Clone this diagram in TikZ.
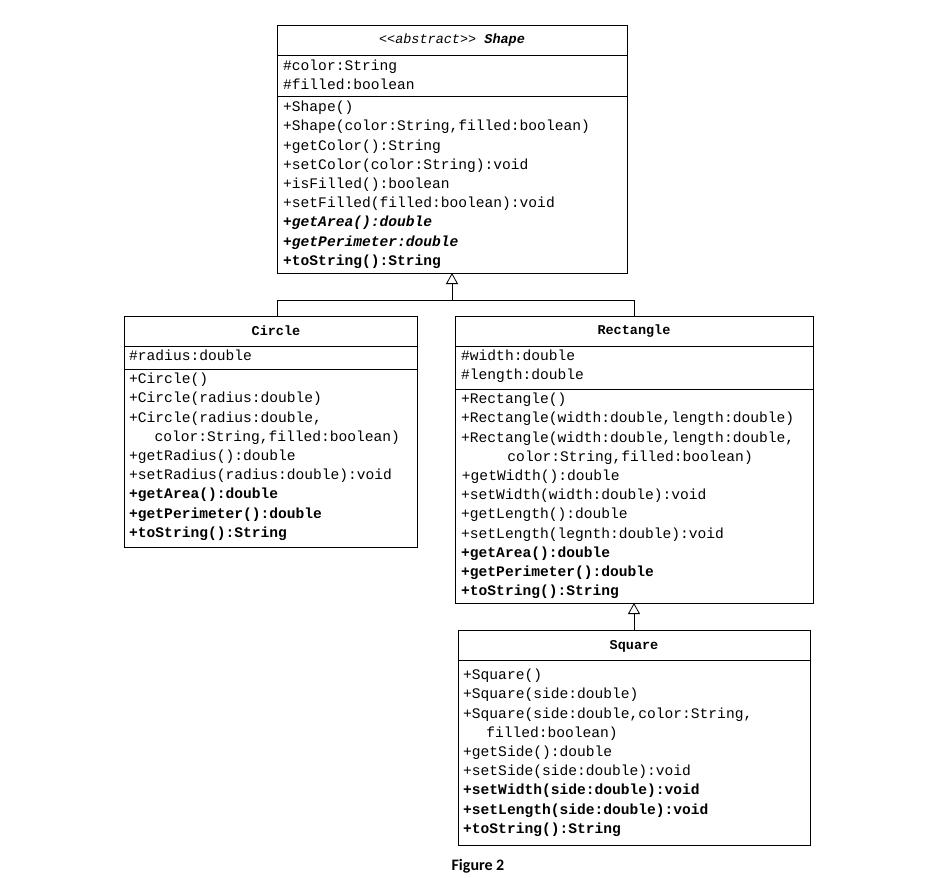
\documentclass[tikz,border=0pt]{standalone}
\usepackage{fontspec}
\setmainfont{Carlito}
\setmonofont{Liberation Mono}
\usetikzlibrary{arrows.meta}
\begin{document}
\begin{tikzpicture}[x=1pt,y=-1pt,
  sect/.style={anchor=north west,align=left,inner sep=0pt,font=\ttfamily\fontsize{14.6}{19.2}\selectfont},
  hdr/.style={anchor=center,inner sep=0pt,font=\ttfamily\bfseries\fontsize{13.5}{16}\selectfont},
  box/.style={draw,line width=0.8pt},
  conn/.style={draw,line width=0.8pt},
  inh/.style={draw,line width=0.8pt,-{Triangle[open,width=12pt,length=11pt]}}]
\useasboundingbox (0,0) rectangle (927,878);
% Shape
\draw[box] (277,25) rectangle (627,273);
\draw[box] (277,55) -- (627,55) (277,96) -- (627,96);
\node[hdr,font=\ttfamily\fontsize{13.5}{16}\selectfont] (sh) at (452,40) {\textit{<<abstract>>} \textbf{\textit{Shape}}};
\node[sect] (sa) at (283,60) {\#color:String\\\#filled:boolean};
\node[sect] (sm) at (283,101) {+Shape()\\+Shape(color:String,filled:boolean)\\+getColor():String\\+setColor(color:String):void\\+isFilled():boolean\\+setFilled(filled:boolean):void\\\textbf{\textit{+getArea():double}}\\\textbf{\textit{+getPerimeter:double}}\\\textbf{+toString():String}};
% Circle
\draw[box] (124,316) rectangle (417,547);
\draw[box] (124,346) -- (417,346) (124,369) -- (417,369);
\node[hdr] (ch) at (276,331) {Circle};
\node[sect] (ca) at (129,350) {\#radius:double};
\node[sect] (cm) at (129,373) {+Circle()\\+Circle(radius:double)\\+Circle(radius:double,\\\hspace*{3.3ex}color:String,filled:boolean)\\+getRadius():double\\+setRadius(radius:double):void\\\textbf{+getArea():double}\\\textbf{+getPerimeter():double}\\\textbf{+toString():String}};
% Rectangle
\draw[box] (455,316) rectangle (813,603);
\draw[box] (455,346) -- (813,346) (455,389) -- (813,389);
\node[hdr] (rh) at (634,331) {Rectangle};
\node[sect] (ra) at (461,350) {\#width:double\\\#length:double};
\node[sect] (rm) at (461,393) {+Rectangle()\\+Rectangle(width:double,length:double)\\+Rectangle(width:double,length:double,\\\hspace*{6ex}color:String,filled:boolean)\\\hspace*{0.1ex}+getWidth():double\\+setWidth(width:double):void\\+getLength():double\\+setLength(legnth:double):void\\\textbf{+getArea():double}\\\textbf{+getPerimeter():double}\\\textbf{+toString():String}};
% Square
\draw[box] (458,630) rectangle (810,845);
\draw[box] (458,660) -- (810,660);
\node[hdr] (qh) at (634,646) {Square};
\node[sect] (qm) at (463,669) {+Square()\\+Square(side:double)\\+Square(side:double,color:String,\\\hspace*{3ex}filled:boolean)\\+getSide():double\\+setSide(side:double):void\\\textbf{+setWidth(side:double):void}\\\textbf{+setLength(side:double):void}\\\textbf{+toString():String}};
% inheritance
\coordinate (sb) at (452,273);
\coordinate (rt) at (634,603);
\draw[conn] (277,316) -- (277,300) -- (634,300) -- (634,316);
\draw[inh] (452,300) -- (sb);
\draw[inh] (634,630) -- (rt);
\node[font=\bfseries\fontsize{16}{18}\selectfont] (fig) at (478,866) {Figure 2};
\end{tikzpicture}
\end{document}
